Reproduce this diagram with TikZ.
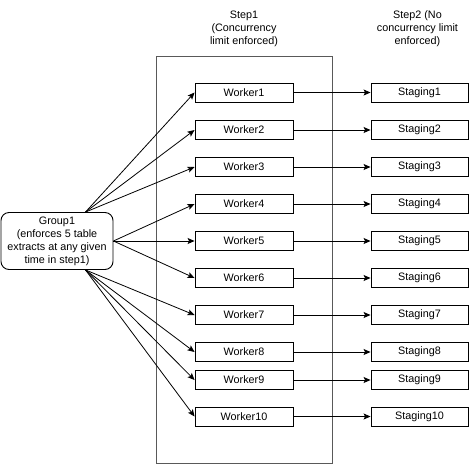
\documentclass[tikz,border=0pt]{standalone}
\usepackage{fontspec}
\setmainfont{Liberation Sans}
\usetikzlibrary{arrows.meta}

\begin{document}
\begin{tikzpicture}[x=1pt,y=-1pt,
  font=\fontsize{10.8}{13}\selectfont,
  jobbox/.style={draw,line width=0.9pt,minimum width=98pt,minimum height=19pt,inner sep=0pt},
  link/.style={-{Stealth[length=7pt,width=6pt,inset=1.5pt]},line width=0.8pt}]
\useasboundingbox (0,0) rectangle (474,464);
\draw [line width=1pt,black!65] (156,56) rectangle (332,463);
\node [align=center] (step1) at (244,29) {Step1\\(Concurrency\\limit enforced)};
\node [align=center] (step2) at (417.5,29) {Step2 (No\\concurrency limit\\enforced)};
\node [draw,line width=0.9pt,rounded corners=8pt,align=center,minimum width=112pt,minimum height=57pt,inner sep=1pt] (g) at (57,241) {Group1\\(enforces 5 table\\extracts at any given\\time in step1)};
\coordinate (gt) at ([xshift=28.5pt]g.north);
\coordinate (gr) at (g.east);
\coordinate (gb) at ([xshift=28.5pt]g.south);
\foreach \i/\y in {1/92.5,2/130,3/167,4/204,5/241,6/278,7/315,8/352,9/380,10/416.5} {
  \node [jobbox] (w\i) at (244,\y) {Worker\i};
  \node [jobbox,minimum width=97pt] (s\i) at (419.5,\y) {Staging\i};
  \draw [link] (w\i.east) -- (s\i.west);
}
\foreach \i in {1,2,3} \draw [link] (gt) -- (w\i.west);
\foreach \i in {4,5,6} \draw [link] (gr) -- (w\i.west);
\foreach \i in {7,8,9,10} \draw [link] (gb) -- (w\i.west);
\end{tikzpicture}
\end{document}
